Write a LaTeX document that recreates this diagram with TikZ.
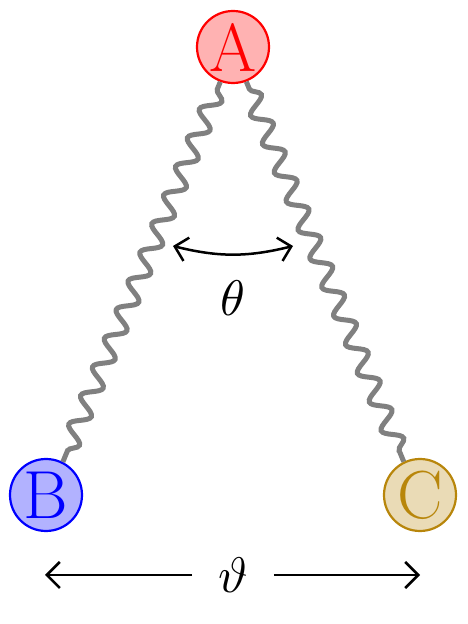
\documentclass[tikz,border=0pt]{standalone}
\usepackage{tikz}
\usetikzlibrary{decorations.pathmorphing,arrows.meta}

\definecolor{goldC}{RGB}{184,134,11}

\tikzset{
  ball/.style={circle,draw=#1,fill=#1!30,text=#1,line width=2.2pt,
    minimum size=72pt,inner sep=0pt,font=\fontsize{68}{72}\selectfont},
  spring/.style={draw=gray,line width=5pt,decorate,
    decoration={snake,segment length=31pt,amplitude=9pt,pre length=8pt,post length=8pt}},
  angarrow/.style={line width=2.5pt,{Straight Barb[length=12pt,width=24pt]}-{Straight Barb[length=12pt,width=24pt]}},
  sidearrow/.style={line width=2.5pt,-{Straight Barb[length=13pt,width=26pt]}}
}

\begin{document}
\begin{tikzpicture}[x=1pt,y=1pt]
\useasboundingbox (0,0) rectangle (467,624);

% Balls
\node[ball=red] (A) at (233,577) {A};
\node[ball=blue] (B) at (46,129) {B};
\node[ball=goldC] (C) at (420,129) {C};

% Springs
\draw[spring] (A.250) -- (B.63);
\draw[spring] (A.291) -- (C.116);

% Angle
\coordinate (t1) at (173,378);
\coordinate (t2) at (293,378);
\draw[angarrow] (t1) to[bend right=14] (t2);
\node[scale=5] (theta) at (233,326) {$\theta$};

% Distance
\node[scale=5,inner sep=5pt] (vtheta) at (233,49) {$\vartheta$};
\coordinate (dl) at (45,49);
\coordinate (dr) at (420,49);
\draw[sidearrow] (vtheta) -- (dl);
\draw[sidearrow] (vtheta) -- (dr);

\end{tikzpicture}
\end{document}
